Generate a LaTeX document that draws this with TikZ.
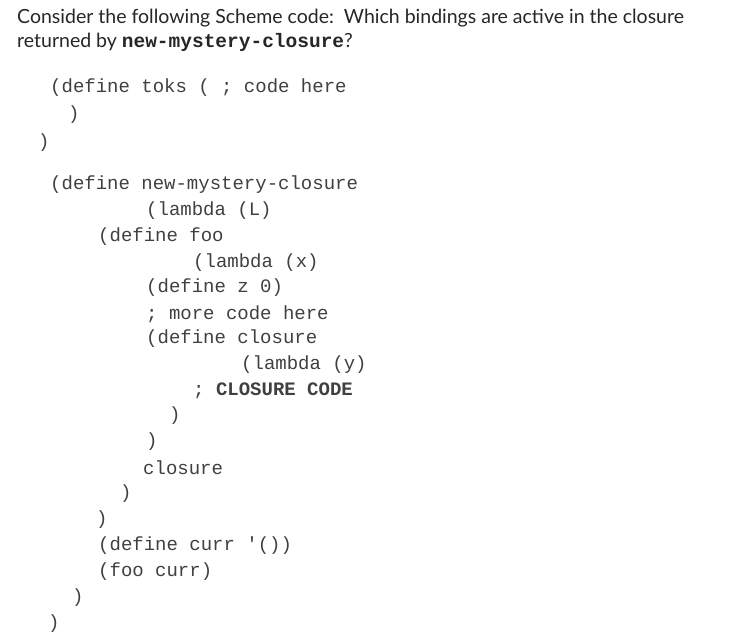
\documentclass[tikz,border=0pt]{standalone}
\usepackage{fontspec}
\setmainfont{Lato}
\setmonofont{Liberation Mono}
\begin{document}
\begin{tikzpicture}[x=1pt,y=-1pt,
  code/.style={anchor=west,inner sep=0pt,font=\fontsize{19}{19}\selectfont\ttfamily,text=black!75},
  ttl/.style={anchor=west,inner sep=0pt,font=\fontsize{19.5}{19.5}\selectfont,text=black!85}]
\useasboundingbox (0,0) rectangle (732,639);
\node[ttl] (t1) at (17,18) {Consider the following Scheme code:\ \ Which bindings are active in the closure};
\node[ttl] (t2) at (17,42) {returned by \textbf{\ttfamily new-mystery-closure}?};
\node[code] (c1) at (50,88) {(define toks ( ; code here};
\node[code] (c2) at (68,115) {)};
\node[code] (c3) at (38,143) {)};
\node[code] (c4) at (50,185) {(define new-mystery-closure};
\node[code] (c5) at (146,211) {(lambda (L)};
\node[code] (c6) at (98,237) {(define foo};
\node[code] (c7) at (193,263) {(lambda (x)};
\node[code] (c8) at (146,288) {(define z 0)};
\node[code] (c9) at (146,314) {; more code here};
\node[code] (c10) at (146,339) {(define closure};
\node[code] (c11) at (241,365) {(lambda (y)};
\node[code] (c12) at (193,391) {; \textbf{CLOSURE CODE}};
\node[code] (c13) at (169,416) {)};
\node[code] (c14) at (146,442) {)};
\node[code] (c15) at (143,468) {closure};
\node[code] (c16) at (120,494) {)};
\node[code] (c17) at (96,520) {)};
\node[code] (c18) at (98,546) {(define curr '())};
\node[code] (c19) at (98,572) {(foo curr)};
\node[code] (c20) at (72,598) {)};
\node[code] (c21) at (48,624) {)};
\end{tikzpicture}
\end{document}
